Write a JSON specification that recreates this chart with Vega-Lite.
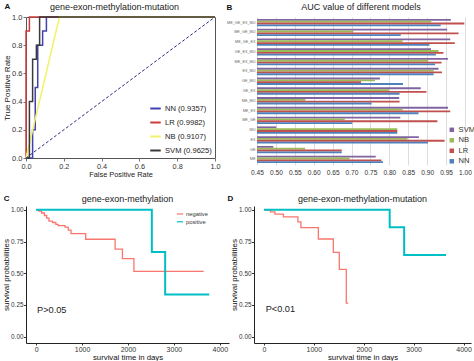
{
  "$schema": "https://vega.github.io/schema/vega-lite/v6.json",
  "padding": {"left": 2, "top": 2, "right": 0, "bottom": 0},
  "spacing": 16,
  "resolve": {"scale": {"color": "independent"}, "legend": {"color": "independent"}},
  "config": {
    "font": "Liberation Sans",
    "view": {"stroke": null},
    "title": {"fontSize": 9, "fontWeight": "normal", "color": "#222"},
    "axis": {"titleFontWeight": "normal", "labelFlush": false, "labelOverlap": false, "grid": false}
  },
  "datasets": {
    "roc": [
      {"model": "NN (0.9357)", "i": 0, "fpr": 0, "tpr": 0},
      {"model": "NN (0.9357)", "i": 1, "fpr": 0.035, "tpr": 0},
      {"model": "NN (0.9357)", "i": 2, "fpr": 0.035, "tpr": 0.2},
      {"model": "NN (0.9357)", "i": 3, "fpr": 0.049, "tpr": 0.2},
      {"model": "NN (0.9357)", "i": 4, "fpr": 0.049, "tpr": 0.5},
      {"model": "NN (0.9357)", "i": 5, "fpr": 0.062, "tpr": 0.5},
      {"model": "NN (0.9357)", "i": 6, "fpr": 0.062, "tpr": 0.8},
      {"model": "NN (0.9357)", "i": 7, "fpr": 0.088, "tpr": 0.8},
      {"model": "NN (0.9357)", "i": 8, "fpr": 0.088, "tpr": 0.9},
      {"model": "NN (0.9357)", "i": 9, "fpr": 0.108, "tpr": 0.9},
      {"model": "NN (0.9357)", "i": 10, "fpr": 0.108, "tpr": 1},
      {"model": "NN (0.9357)", "i": 11, "fpr": 1, "tpr": 1},
      {"model": "LR (0.9982)", "i": 0, "fpr": 0, "tpr": 0},
      {"model": "LR (0.9982)", "i": 1, "fpr": 0, "tpr": 0.9},
      {"model": "LR (0.9982)", "i": 2, "fpr": 0.018, "tpr": 0.9},
      {"model": "LR (0.9982)", "i": 3, "fpr": 0.018, "tpr": 1},
      {"model": "LR (0.9982)", "i": 4, "fpr": 1, "tpr": 1},
      {"model": "NB (0.9107)", "i": 0, "fpr": 0, "tpr": 0},
      {"model": "NB (0.9107)", "i": 1, "fpr": 0.177, "tpr": 1},
      {"model": "NB (0.9107)", "i": 2, "fpr": 1, "tpr": 1},
      {"model": "SVM (0.9625)", "i": 0, "fpr": 0, "tpr": 0},
      {"model": "SVM (0.9625)", "i": 1, "fpr": 0.018, "tpr": 0},
      {"model": "SVM (0.9625)", "i": 2, "fpr": 0.018, "tpr": 0.4},
      {"model": "SVM (0.9625)", "i": 3, "fpr": 0.035, "tpr": 0.4},
      {"model": "SVM (0.9625)", "i": 4, "fpr": 0.035, "tpr": 0.7},
      {"model": "SVM (0.9625)", "i": 5, "fpr": 0.055, "tpr": 0.7},
      {"model": "SVM (0.9625)", "i": 6, "fpr": 0.055, "tpr": 0.8},
      {"model": "SVM (0.9625)", "i": 7, "fpr": 0.072, "tpr": 0.8},
      {"model": "SVM (0.9625)", "i": 8, "fpr": 0.072, "tpr": 1},
      {"model": "SVM (0.9625)", "i": 9, "fpr": 1, "tpr": 1}
    ],
    "auc": [
      {"combo": "ME_GE_EX_MU", "model": "SVM", "auc": 0.9625},
      {"combo": "ME_GE_EX_MU", "model": "NB", "auc": 0.9107},
      {"combo": "ME_GE_EX_MU", "model": "LR", "auc": 0.9982},
      {"combo": "ME_GE_EX_MU", "model": "NN", "auc": 0.9357},
      {"combo": "ME_GE_MU", "model": "SVM", "auc": 0.953},
      {"combo": "ME_GE_MU", "model": "NB", "auc": 0.705},
      {"combo": "ME_GE_MU", "model": "LR", "auc": 0.983},
      {"combo": "ME_GE_MU", "model": "NN", "auc": 0.83},
      {"combo": "ME_GE_EX", "model": "SVM", "auc": 0.961},
      {"combo": "ME_GE_EX", "model": "NB", "auc": 0.835},
      {"combo": "ME_GE_EX", "model": "LR", "auc": 0.973},
      {"combo": "ME_GE_EX", "model": "NN", "auc": 0.906},
      {"combo": "GE_EX_MU", "model": "SVM", "auc": 0.91},
      {"combo": "GE_EX_MU", "model": "NB", "auc": 0.93},
      {"combo": "GE_EX_MU", "model": "LR", "auc": 0.943},
      {"combo": "GE_EX_MU", "model": "NN", "auc": 0.923},
      {"combo": "ME_EX_MU", "model": "SVM", "auc": 0.955},
      {"combo": "ME_EX_MU", "model": "NB", "auc": 0.903},
      {"combo": "ME_EX_MU", "model": "LR", "auc": 0.938},
      {"combo": "ME_EX_MU", "model": "NN", "auc": 0.921},
      {"combo": "EX_MU", "model": "SVM", "auc": 0.93},
      {"combo": "EX_MU", "model": "NB", "auc": 0.917},
      {"combo": "EX_MU", "model": "LR", "auc": 0.939},
      {"combo": "EX_MU", "model": "NN", "auc": 0.917},
      {"combo": "GE_MU", "model": "SVM", "auc": 0.775},
      {"combo": "GE_MU", "model": "NB", "auc": 0.762},
      {"combo": "GE_MU", "model": "LR", "auc": 0.725},
      {"combo": "GE_MU", "model": "NN", "auc": 0.836},
      {"combo": "GE_EX", "model": "SVM", "auc": 0.883},
      {"combo": "GE_EX", "model": "NB", "auc": 0.799},
      {"combo": "GE_EX", "model": "LR", "auc": 0.898},
      {"combo": "GE_EX", "model": "NN", "auc": 0.827},
      {"combo": "ME_MU", "model": "SVM", "auc": 0.826},
      {"combo": "ME_MU", "model": "NB", "auc": 0.578},
      {"combo": "ME_MU", "model": "LR", "auc": 0.827},
      {"combo": "ME_MU", "model": "NN", "auc": 0.753},
      {"combo": "ME_EX", "model": "SVM", "auc": 0.955},
      {"combo": "ME_EX", "model": "NB", "auc": 0.835},
      {"combo": "ME_EX", "model": "LR", "auc": 0.961},
      {"combo": "ME_EX", "model": "NN", "auc": 0.877},
      {"combo": "ME_GE", "model": "SVM", "auc": 0.829},
      {"combo": "ME_GE", "model": "NB", "auc": 0.682},
      {"combo": "ME_GE", "model": "LR", "auc": 0.927},
      {"combo": "ME_GE", "model": "NN", "auc": 0.702},
      {"combo": "MU", "model": "SVM", "auc": 0.501},
      {"combo": "MU", "model": "NB", "auc": 0.821},
      {"combo": "MU", "model": "LR", "auc": 0.821},
      {"combo": "MU", "model": "NN", "auc": 0.821},
      {"combo": "EX", "model": "SVM", "auc": 0.878},
      {"combo": "EX", "model": "NB", "auc": 0.848},
      {"combo": "EX", "model": "LR", "auc": 0.946},
      {"combo": "EX", "model": "NN", "auc": 0.902},
      {"combo": "GE", "model": "SVM", "auc": 0.493},
      {"combo": "GE", "model": "NB", "auc": 0.577},
      {"combo": "GE", "model": "LR", "auc": 0.674},
      {"combo": "GE", "model": "NN", "auc": 0.674},
      {"combo": "ME", "model": "SVM", "auc": 0.764},
      {"combo": "ME", "model": "NB", "auc": 0.695},
      {"combo": "ME", "model": "LR", "auc": 0.779},
      {"combo": "ME", "model": "NN", "auc": 0.783}
    ],
    "kmC": [
      {"g": "negative", "t": 0, "s": 1},
      {"g": "negative", "t": 60, "s": 0.99},
      {"g": "negative", "t": 120, "s": 0.975},
      {"g": "negative", "t": 180, "s": 0.955},
      {"g": "negative", "t": 230, "s": 0.935},
      {"g": "negative", "t": 280, "s": 0.91},
      {"g": "negative", "t": 360, "s": 0.9},
      {"g": "negative", "t": 430, "s": 0.885},
      {"g": "negative", "t": 480, "s": 0.875},
      {"g": "negative", "t": 630, "s": 0.863},
      {"g": "negative", "t": 700, "s": 0.84},
      {"g": "negative", "t": 760, "s": 0.812},
      {"g": "negative", "t": 1080, "s": 0.768},
      {"g": "negative", "t": 1720, "s": 0.69},
      {"g": "negative", "t": 1880, "s": 0.615},
      {"g": "negative", "t": 2130, "s": 0.515},
      {"g": "negative", "t": 3650, "s": 0.515},
      {"g": "positive", "t": 0, "s": 1},
      {"g": "positive", "t": 2520, "s": 0.667},
      {"g": "positive", "t": 2810, "s": 0.333},
      {"g": "positive", "t": 3770, "s": 0.333}
    ],
    "kmD": [
      {"g": "negative", "t": 0, "s": 1},
      {"g": "negative", "t": 130, "s": 0.984},
      {"g": "negative", "t": 220, "s": 0.966},
      {"g": "negative", "t": 390, "s": 0.945},
      {"g": "negative", "t": 680, "s": 0.905},
      {"g": "negative", "t": 740, "s": 0.86},
      {"g": "negative", "t": 1090, "s": 0.77},
      {"g": "negative", "t": 1390, "s": 0.665},
      {"g": "negative", "t": 1510, "s": 0.53},
      {"g": "negative", "t": 1650, "s": 0.265},
      {"g": "negative", "t": 1690, "s": 0.265},
      {"g": "positive", "t": 0, "s": 1},
      {"g": "positive", "t": 2520, "s": 0.862},
      {"g": "positive", "t": 2810, "s": 0.643},
      {"g": "positive", "t": 3650, "s": 0.643}
    ]
  },
  "vconcat": [
    {
      "hconcat": [
        {
          "width": 189,
          "height": 141,
          "view": {"stroke": "#555", "strokeWidth": 1},
          "title": {"text": "gene-exon-methylation-mutation", "offset": 5, "dx": -6, "dy": 14},
          "encoding": {
            "x": {"field": "fpr", "type": "quantitative", "scale": {"domain": [0, 1], "nice": false, "zero": false},
              "axis": {"title": "False Positive Rate", "titleFontSize": 7.4, "titleColor": "#222", "titlePadding": 1, "labelFontSize": 7.3, "labelColor": "#333", "labelOverlap": false, "tickSize": 3, "tickColor": "#777", "domain": false, "values": [0, 0.2, 0.4, 0.6, 0.8, 1], "format": ".1f", "labelPadding": 1.5}},
            "y": {"field": "tpr", "type": "quantitative", "scale": {"domain": [0, 1], "nice": false, "zero": false},
              "axis": {"title": "True Positive Rate", "titleFontSize": 8, "titleColor": "#222", "titlePadding": 0, "labelFontSize": 7.5, "labelColor": "#333", "labelOverlap": false, "tickSize": 3, "tickColor": "#777", "domain": false, "values": [0, 0.2, 0.4, 0.6, 0.8, 1], "format": ".1f", "labelPadding": 1}}
          },
          "layer": [
            {
              "data": {"values": [{"fpr": 0, "tpr": 0}, {"fpr": 1, "tpr": 1}]},
              "mark": {"type": "line", "strokeDash": [3, 2], "color": "#2a2a80", "strokeWidth": 1}
            },
            {
              "data": {"name": "roc"},
              "mark": {"type": "line", "strokeWidth": 1.5},
              "encoding": {
                "order": {"field": "i", "type": "quantitative"},
                "color": {"field": "model", "type": "nominal",
                  "scale": {"domain": ["NN (0.9357)", "LR (0.9982)", "NB (0.9107)", "SVM (0.9625)"], "range": ["#4141b0", "#cc3b3b", "#f2f26a", "#3a3a3a"]},
                  "legend": {"title": null, "orient": "bottom-right", "offset": 3, "symbolType": "stroke", "symbolStrokeWidth": 2, "symbolSize": 110, "labelFontSize": 7.6, "labelColor": "#222", "rowPadding": 3, "labelOffset": 3}}
              }
            },
            {
              "data": {"values": [{"label": "A", "fpr": -0.098, "tpr": 1.071}]},
              "mark": {"type": "text", "fontWeight": "bold", "fontSize": 8, "color": "#111"},
              "encoding": {"text": {"field": "label"}}
            }
          ]
        },
        {
          "width": 208,
          "height": 148,
          "title": {"text": "AUC value of different models", "offset": 5, "dy": 14},
          "data": {"name": "auc"},
          "mark": {"type": "bar"},
          "encoding": {
            "y": {"field": "combo", "type": "nominal",
              "sort": ["ME_GE_EX_MU", "ME_GE_MU", "ME_GE_EX", "GE_EX_MU", "ME_EX_MU", "EX_MU", "GE_MU", "GE_EX", "ME_MU", "ME_EX", "ME_GE", "MU", "EX", "GE", "ME"],
              "scale": {"paddingInner": 0.25, "paddingOuter": 0.2},
              "axis": {"title": "B", "titleAngle": 0, "titleFontWeight": "bold", "titleFontSize": 8, "titleColor": "#111", "titleAlign": "center", "titleBaseline": "middle", "titleX": -28, "titleY": -10, "labelFontSize": 3.8, "labelColor": "#666", "domain": false, "ticks": false, "labelPadding": 2}},
            "yOffset": {"field": "model", "type": "nominal", "sort": ["SVM", "NB", "LR", "NN"]},
            "x": {"field": "auc", "type": "quantitative", "scale": {"domain": [0.45, 1.0], "zero": false, "nice": false},
              "axis": {"title": null, "values": [0.45, 0.5, 0.55, 0.6, 0.65, 0.7, 0.75, 0.8, 0.85, 0.9, 0.95, 1.0], "format": ".2f", "labelFontSize": 6.6, "labelColor": "#333", "labelOverlap": false, "grid": true, "gridColor": "#dddddd", "domain": false, "ticks": false, "labelPadding": 4}},
            "x2": {"datum": 0.45},
            "color": {"field": "model", "type": "nominal",
              "scale": {"domain": ["SVM", "NB", "LR", "NN"], "range": ["#8064a2", "#9bbb59", "#c0504d", "#4f81bd"]},
              "legend": {"title": null, "orient": "none", "legendX": 191, "legendY": 109, "symbolType": "square", "symbolSize": 20, "labelFontSize": 7.6, "labelColor": "#333", "rowPadding": 1.5, "labelOffset": 3}}
          }
        }
      ],
      "spacing": 5,
      "resolve": {"scale": {"color": "independent"}, "legend": {"color": "independent"}}
    },
    {
      "hconcat": [
        {
          "width": 203,
          "height": 137,
          "title": {"text": "gene-exon-methylation", "offset": 2, "dy": 11},
          "encoding": {
            "x": {"field": "t", "type": "quantitative", "scale": {"domain": [-220, 4200], "nice": false, "zero": false},
              "axis": {"title": "survival time in days", "titleFontSize": 7.8, "titleColor": "#111", "titlePadding": 1, "labelFontSize": 7, "labelColor": "#333", "labelOverlap": false, "values": [0, 1000, 2000, 3000, 4000], "format": "d", "tickSize": 2, "tickColor": "#333", "domainColor": "#222", "labelPadding": 0.5}},
            "y": {"field": "s", "type": "quantitative", "scale": {"domain": [-0.05, 1.03], "nice": false, "zero": false},
              "axis": {"title": "survival probabilities", "titleFontSize": 8, "titleColor": "#111", "titleX": -16, "labelFontSize": 6.4, "labelColor": "#333", "labelOverlap": false, "values": [0, 0.25, 0.5, 0.75, 1], "format": ".2f", "tickSize": 2.5, "tickColor": "#333", "domainColor": "#222", "labelPadding": 0.5}}
          },
          "layer": [
            {
              "data": {"name": "kmC"},
              "transform": [{"filter": "datum.g == 'negative'"}],
              "mark": {"type": "line", "interpolate": "step-after", "strokeWidth": 1.3},
              "encoding": {
                "color": {"field": "g", "type": "nominal", "scale": {"domain": ["negative", "positive"], "range": ["#F8766D", "#00BFC4"]},
                  "legend": {"title": null, "orient": "none", "legendX": 150, "legendY": 4, "symbolType": "stroke", "symbolSize": 40, "symbolStrokeWidth": 1.2, "labelFontSize": 5.8, "labelColor": "#333", "rowPadding": 0.8, "labelOffset": 2}}
              }
            },
            {
              "data": {"name": "kmC"},
              "transform": [{"filter": "datum.g == 'positive'"}],
              "mark": {"type": "line", "interpolate": "step-after", "strokeWidth": 2},
              "encoding": {"color": {"field": "g", "type": "nominal"}}
            },
            {
              "data": {"values": [{"label": "P>0.05", "t": 20, "s": 0.2125}]},
              "mark": {"type": "text", "align": "left", "baseline": "middle", "fontSize": 9.2, "color": "#222"},
              "encoding": {"text": {"field": "label"}}
            },
            {
              "data": {"values": [{"label": "C", "t": -644, "s": 1.085}]},
              "mark": {"type": "text", "fontWeight": "bold", "fontSize": 8, "color": "#111"},
              "encoding": {"text": {"field": "label"}}
            }
          ]
        },
        {
          "width": 217,
          "height": 137,
          "title": {"text": "gene-exon-methylation-mutation", "offset": 2, "dy": 11},
          "encoding": {
            "x": {"field": "t", "type": "quantitative", "scale": {"domain": [-200, 4150], "nice": false, "zero": false},
              "axis": {"title": "survival time in days", "titleFontSize": 7.8, "titleColor": "#111", "titlePadding": 1, "labelFontSize": 7, "labelColor": "#333", "labelOverlap": false, "values": [0, 1000, 2000, 3000, 4000], "format": "d", "tickSize": 2, "tickColor": "#333", "domainColor": "#222", "labelPadding": 0.5}},
            "y": {"field": "s", "type": "quantitative", "scale": {"domain": [-0.05, 1.03], "nice": false, "zero": false},
              "axis": {"title": "survival probabilities", "titleFontSize": 8, "titleColor": "#111", "titleX": -16, "labelFontSize": 6.4, "labelColor": "#333", "labelOverlap": false, "values": [0, 0.25, 0.5, 0.75, 1], "format": ".2f", "tickSize": 2.5, "tickColor": "#333", "domainColor": "#222", "labelPadding": 0.5}}
          },
          "layer": [
            {
              "data": {"name": "kmD"},
              "transform": [{"filter": "datum.g == 'negative'"}],
              "mark": {"type": "line", "interpolate": "step-after", "strokeWidth": 1.3},
              "encoding": {
                "color": {"field": "g", "type": "nominal", "scale": {"domain": ["negative", "positive"], "range": ["#F8766D", "#00BFC4"]}, "legend": null}
              }
            },
            {
              "data": {"name": "kmD"},
              "transform": [{"filter": "datum.g == 'positive'"}],
              "mark": {"type": "line", "interpolate": "step-after", "strokeWidth": 2},
              "encoding": {"color": {"field": "g", "type": "nominal", "legend": null}}
            },
            {
              "data": {"values": [{"label": "P<0.01", "t": 34, "s": 0.218}]},
              "mark": {"type": "text", "align": "left", "baseline": "middle", "fontSize": 9.2, "color": "#222"},
              "encoding": {"text": {"field": "label"}}
            },
            {
              "data": {"values": [{"label": "D", "t": -671, "s": 1.085}]},
              "mark": {"type": "text", "fontWeight": "bold", "fontSize": 8, "color": "#111"},
              "encoding": {"text": {"field": "label"}}
            }
          ]
        }
      ],
      "spacing": -2,
      "resolve": {"scale": {"color": "independent"}, "legend": {"color": "independent"}}
    }
  ]
}
